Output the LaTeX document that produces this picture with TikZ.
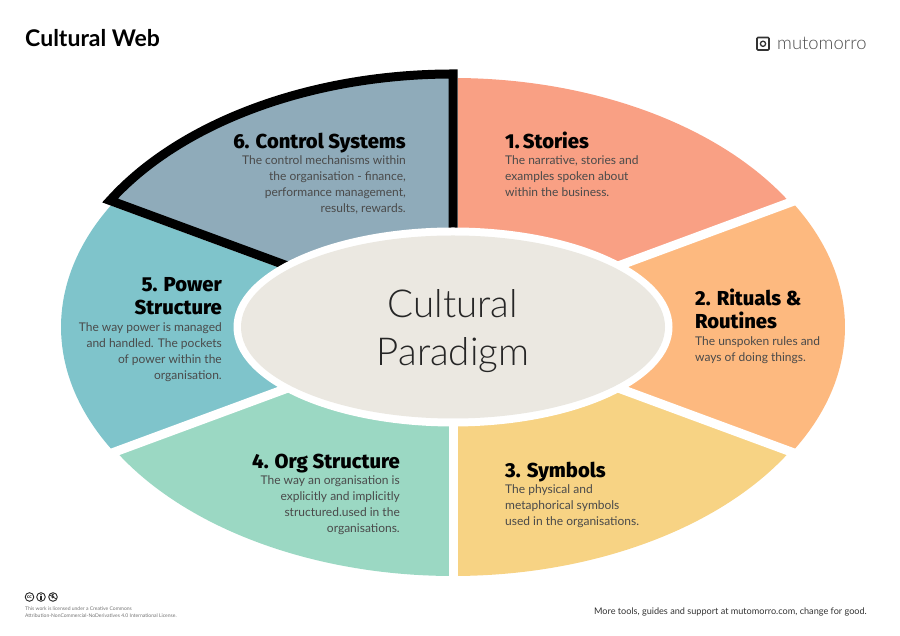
\documentclass[tikz,border=0pt]{standalone}
\usepackage{fontspec}
\setmainfont{Lato}
\newfontfamily\headfont{Fira Sans ExtraBold}
\newfontfamily\lightfont{Lato Light}
\usetikzlibrary{calc,shapes.geometric}

\definecolor{storiesc}{HTML}{F9A084}
\definecolor{ritualsc}{HTML}{FDB97F}
\definecolor{symbolsc}{HTML}{F7D384}
\definecolor{orgc}{HTML}{9BD8C3}
\definecolor{powerc}{HTML}{7FC4CB}
\definecolor{controlc}{HTML}{8FABBA}
\definecolor{paradigmc}{HTML}{EBE8E1}
\definecolor{bodyc}{HTML}{4A4A4A}

\tikzset{
	headtext/.style={inner sep=0pt,font=\headfont\fontsize{20.2}{23}\selectfont,black},
	headleft/.style={headtext,anchor=base west,align=left},
	headright/.style={headtext,anchor=base east,align=right},
	bodytext/.style={inner sep=0pt,font=\fontsize{12}{16}\selectfont,bodyc},
	bodyleft/.style={bodytext,anchor=north west,align=left},
	bodyright/.style={bodytext,anchor=north east,align=right},
	gapline/.style={line width=9pt,white},
}

\begin{document}
\begin{tikzpicture}[x=1pt,y=1pt]
	\newcommand{\outerX}{392}
	\newcommand{\cornerX}{389}
	\newcommand{\outerY}{249}
	\newcommand{\splitAngle}{30.2}

	\useasboundingbox (0,0) rectangle (900,636);

	\coordinate (centre) at (453,309);

	% draw sectors
	\fill[storiesc] (centre) -- ++(90:\outerY) arc[x radius=\cornerX,y radius=\outerY,start angle=90,end angle=\splitAngle] -- cycle;
	\fill[ritualsc] (centre) -- ($(centre)+({\outerX*cos(\splitAngle)},{\outerY*sin(\splitAngle)})$) arc[x radius=\outerX,y radius=\outerY,start angle=\splitAngle,end angle=-\splitAngle] -- cycle;
	\fill[symbolsc] (centre) -- ($(centre)+({\cornerX*cos(\splitAngle)},{-\outerY*sin(\splitAngle)})$) arc[x radius=\cornerX,y radius=\outerY,start angle=-\splitAngle,end angle=-90] -- cycle;
	\fill[orgc] (centre) -- ++(0,-\outerY) arc[x radius=\cornerX,y radius=\outerY,start angle=-90,end angle=-180+\splitAngle] -- cycle;
	\fill[powerc] (centre) -- ($(centre)+({-\outerX*cos(\splitAngle)},{-\outerY*sin(\splitAngle)})$) arc[x radius=\outerX,y radius=\outerY,start angle=180+\splitAngle,end angle=180-\splitAngle] -- cycle;

	% white gaps
	\coordinate (gap_top) at ($(centre)+(0,260)$);
	\coordinate (gap_bottom) at ($(centre)+(0,-260)$);
	\coordinate (gap_ne) at ($(centre)+(360,133)$);
	\coordinate (gap_se) at ($(centre)+(360,-133)$);
	\coordinate (gap_sw) at ($(centre)+(-360,-133)$);
	\coordinate (gap_nw) at ($(centre)+(-360,133)$);
	\draw[gapline] (gap_top) -- (gap_bottom);
	\draw[gapline] (gap_ne) -- (gap_sw);
	\draw[gapline] (gap_se) -- (gap_nw);

	% highlighted sector
	\draw[line width=9pt,black,fill=controlc] (centre) -- ($(centre)+({-396*cos(30)},{253*sin(30)})$) arc[x radius=396,y radius=253,start angle=150,end angle=90] -- cycle;

	% centre ellipse
	\fill[white] (centre) ellipse[x radius=219.5,y radius=99.5];
	\node[ellipse,fill=paradigmc,inner sep=0pt,minimum width=424pt,minimum height=183pt] (paradigm) at (centre) {};
	\node[inner sep=0pt,align=center,font=\lightfont\fontsize{38.5}{48}\selectfont,text=black!85] (paradigm_text) at ($(paradigm)+(0,-4)$) {Cultural\\Paradigm};

	% sector texts
	\node[headleft] (stories_head) at (505,487) {1.\,Stories};
	\node[bodyleft] (stories_body) at (505,481) {The narrative, stories and\\examples spoken about\\within the business.};

	\node[headleft] (rituals_head) at (695,307) {2. Rituals \&\\Routines};
	\node[bodyleft] (rituals_body) at (695,300) {The unspoken rules and\\ways of doing things.};

	\node[headleft] (symbols_head) at (505,158) {3. Symbols};
	\node[bodyleft] (symbols_body) at (505,152) {The physical and\\metaphorical symbols\\used in the organisations.};

	\node[headright] (org_head) at (400,167) {4. Org Structure};
	\node[bodyright] (org_body) at (400,161) {The way an organisation is\\explicitly and implicitly\\structured.used in the\\organisations.};

	\node[headright] (power_head) at (222,321) {5. Power\\Structure};
	\node[bodyright] (power_body) at (222,314) {The way power is managed\\and handled. The pockets\\of power within the\\organisation.};

	\node[headright] (control_head) at (406,487) {6. Control Systems};
	\node[bodyright] (control_body) at (406,481) {The control mechanisms within\\the organisation - finance,\\performance management,\\results, rewards.};

	% title and logo
	\node[inner sep=0pt,anchor=base west,font=\bfseries\fontsize{23}{27}\selectfont] (title) at (25,589) {Cultural Web};
	\draw[line width=1.6pt,black!80,rounded corners=1pt] (757,586) rectangle (769,598.5);
	\draw[line width=1.3pt,black!80] (763,592.2) circle (2.6);
	\node[inner sep=0pt,anchor=base west,font=\lightfont\fontsize{18.4}{20}\selectfont,text=black!70] (brand) at (777,586) {mutomorro};

	% footer
	\node[inner sep=0pt,anchor=base east,font=\fontsize{9.13}{12}\selectfont,text=black!80] (more) at (867,21) {More tools, guides and support at mutomorro.com, change for good.};
	\node[inner sep=0pt,anchor=north west,align=left,font=\fontsize{5.03}{7}\selectfont,text=black!55] (licence) at (25,29) {This work is licensed under a Creative Commons\\Attribution-NonCommercial-NoDerivatives 4.0 International License.};

	% licence badges
	\foreach \badgeX in {29.5,41,53}
		\draw[line width=0.9pt,black!85] (\badgeX,39) circle (4.3);
	\node[inner sep=0pt,font=\bfseries\fontsize{5}{5}\selectfont] (badge_cc) at (29.5,39) {cc};
	\fill[black!85] (41,41.2) circle (0.9);
	\fill[black!85] (40,36) rectangle (42,40);
	\node[inner sep=0pt,font=\bfseries\fontsize{5.5}{5}\selectfont] (badge_nc) at (53,39) {\$};
	\draw[line width=0.7pt,black!85] (49.8,41) -- (56.2,37);
\end{tikzpicture}
\end{document}
